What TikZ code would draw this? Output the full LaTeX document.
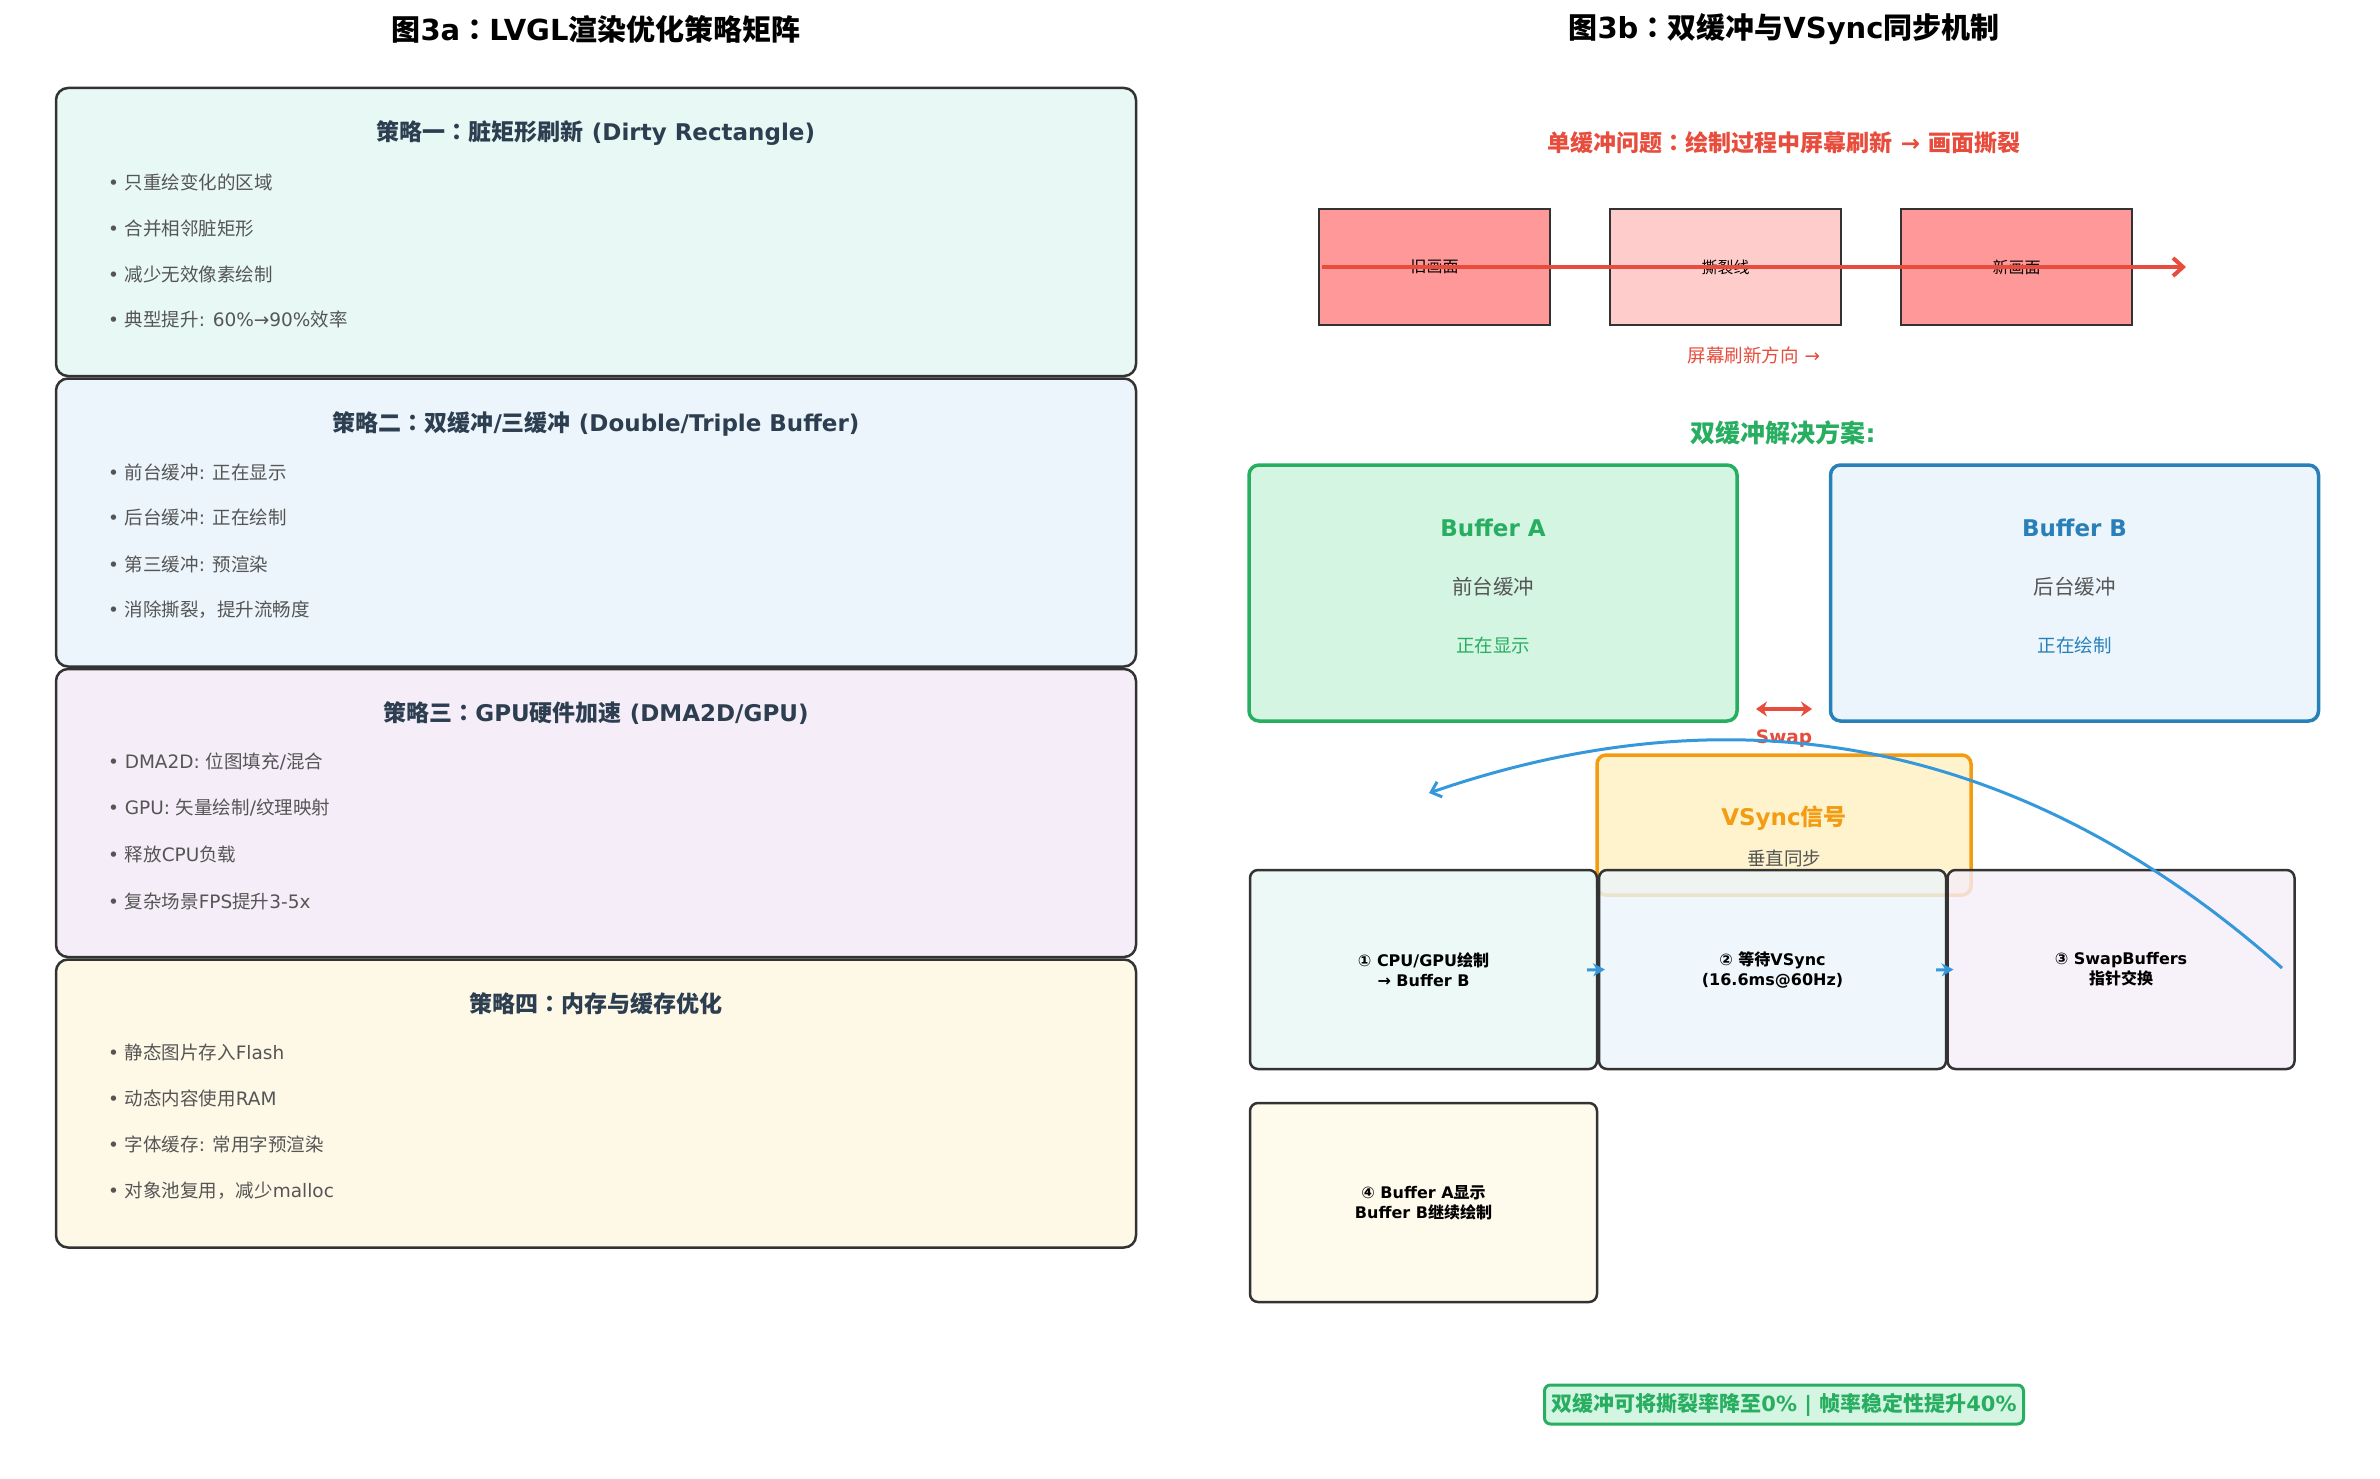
\documentclass[tikz,border=0pt]{standalone}
\usepackage{fontspec}
\setmainfont{DejaVu Sans}
\newfontfamily\lat{DejaVu Sans}
\newfontfamily\cjk{Noto Sans CJK SC}
\newfontfamily\cjkjp{Noto Sans CJK JP}
\usetikzlibrary{arrows.meta}
% automatic switch to the CJK font for CJK characters
\XeTeXinterchartokenstate=1
\newXeTeXintercharclass\zhcls
\newXeTeXintercharclass\colcls
\count255="4E00
\loop\XeTeXcharclass\count255=\zhcls\ifnum\count255<"9FFF\advance\count255 by 1\repeat
\count255="3000
\loop\XeTeXcharclass\count255=\zhcls\ifnum\count255<"303F\advance\count255 by 1\repeat
\count255="FF00
\loop\XeTeXcharclass\count255=\zhcls\ifnum\count255<"FFEF\advance\count255 by 1\repeat
\XeTeXcharclass"FF1A=\colcls
\XeTeXinterchartoks 0 \zhcls = {\cjk}
\XeTeXinterchartoks 4095 \zhcls = {\cjk}
\XeTeXinterchartoks \zhcls 0 = {\lat}
\XeTeXinterchartoks \zhcls 4095 = {\lat}
\XeTeXinterchartoks 0 \colcls = {\cjkjp}
\XeTeXinterchartoks 4095 \colcls = {\cjkjp}
\XeTeXinterchartoks \zhcls \colcls = {\cjkjp}
\XeTeXinterchartoks \colcls \zhcls = {\cjk}
\XeTeXinterchartoks \colcls 0 = {\lat}
\XeTeXinterchartoks \colcls 4095 = {\lat}

\definecolor{dk}{HTML}{333333}
\definecolor{navy}{HTML}{2C3E50}
\definecolor{gry}{HTML}{555555}
\definecolor{rd}{HTML}{E74C3C}
\definecolor{gn}{HTML}{27AE60}
\definecolor{bl}{HTML}{2980B9}
\definecolor{lb}{HTML}{3498DB}
\definecolor{og}{HTML}{F39C12}
\definecolor{fa}{HTML}{E8F8F5}
\definecolor{fb}{HTML}{EBF5FB}
\definecolor{fc}{HTML}{F5EEF8}
\definecolor{fd}{HTML}{FEF9E7}
\definecolor{rda}{HTML}{FF9999}
\definecolor{rdb}{HTML}{FFCCCC}
\definecolor{gnf}{HTML}{D5F5E3}
\definecolor{ogf}{HTML}{FFF3CD}

\begin{document}
\begin{tikzpicture}[x=1pt,y=-1pt,
  every node/.style={inner sep=0pt, outer sep=0pt},
  sbox/.style={draw=dk, line width=2.5pt, rounded corners=12pt, minimum width=1080pt, minimum height=288pt},
  stitle/.style={font=\fontsize{23}{28}\selectfont\bfseries, text=navy},
  bul/.style={anchor=west, font=\fontsize{18.5}{22}\selectfont, text=gry},
  bigtitle/.style={font=\fontsize{29}{35}\selectfont\bfseries, text=black},
  redbox/.style={draw=dk, line width=2pt, minimum width=231pt, minimum height=116pt},
  redlbl/.style={font=\fontsize{16}{20}\selectfont, text=black},
  bufbox/.style={line width=3.5pt, rounded corners=10pt, minimum width=488pt, minimum height=256pt},
  stepbox/.style={draw=dk, line width=2.5pt, rounded corners=8pt, minimum width=347pt, minimum height=199pt, fill opacity=0.8, text opacity=1, align=center, font=\fontsize{16}{20}\selectfont\bfseries},
  steparrow/.style={draw=lb, line width=3pt, -{Stealth[length=12pt,width=13pt]}}
]
\useasboundingbox (0,0) rectangle (2380,1479);

% ---------- titles ----------
\node[bigtitle] (ta) at (596,29) {图3a：LVGL渲染优化策略矩阵};
\node[bigtitle] (tb) at (1784,29) {图3b：双缓冲与VSync同步机制};

% ---------- left: strategy matrix ----------
\node[sbox, fill=fa] (s1) at (596,232) {};
\node[stitle] (s1t) at (596,133) {策略一：脏矩形刷新 (Dirty Rectangle)};
\node[bul] (s1a) at (108,182) {• 只重绘变化的区域};
\node[bul] (s1b) at (108,228) {• 合并相邻脏矩形};
\node[bul] (s1c) at (108,274) {• 减少无效像素绘制};
\node[bul] (s1d) at (108,319) {• 典型提升: 60\%→90\%效率};

\node[sbox, fill=fb] (s2) at (596,522.5) {};
\node[stitle] (s2t) at (596,423.5) {策略二：双缓冲/三缓冲 (Double/Triple Buffer)};
\node[bul] (s2a) at (108,472) {• 前台缓冲: 正在显示};
\node[bul] (s2b) at (108,517) {• 后台缓冲: 正在绘制};
\node[bul] (s2c) at (108,564) {• 第三缓冲: 预渲染};
\node[bul] (s2d) at (108,610) {• 消除撕裂，提升流畅度};

\node[sbox, fill=fc] (s3) at (596,813) {};
\node[stitle] (s3t) at (596,713) {策略三：GPU硬件加速 (DMA2D/GPU)};
\node[bul] (s3a) at (108,762) {• DMA2D: 位图填充/混合};
\node[bul] (s3b) at (108,808) {• GPU: 矢量绘制/纹理映射};
\node[bul] (s3c) at (108,854) {• 释放CPU负载};
\node[bul] (s3d) at (108,901) {• 复杂场景FPS提升3-5x};

\node[sbox, fill=fd] (s4) at (596,1103.5) {};
\node[stitle] (s4t) at (596,1003.5) {策略四：内存与缓存优化};
\node[bul] (s4a) at (108,1052.5) {• 静态图片存入Flash};
\node[bul] (s4b) at (108,1098.5) {• 动态内容使用RAM};
\node[bul] (s4c) at (108,1144.5) {• 字体缓存: 常用字预渲染};
\node[bul] (s4d) at (108,1190.5) {• 对象池复用，减少malloc};

% ---------- right: single buffer problem ----------
\node[font=\fontsize{23}{28}\selectfont\bfseries, text=rd] (prob) at (1784,143) {单缓冲问题：绘制过程中屏幕刷新 → 画面撕裂};
\node[redbox, fill=rda] (r1) at (1434.5,267) {};
\node[redbox, fill=rdb] (r2) at (1725.5,267) {};
\node[redbox, fill=rda] (r3) at (2016.5,267) {};
\node[redlbl] (r1l) at (r1.center) {旧画面};
\node[redlbl] (r2l) at (r2.center) {撕裂线};
\node[redlbl] (r3l) at (r3.center) {新画面};
\coordinate (ra) at (1322,267);
\coordinate (rb) at (2186,267);
\draw[rd, line width=4pt, -{Straight Barb[length=10pt,width=18pt]}] (ra) -- (rb);
\node[font=\fontsize{18.5}{22}\selectfont, text=rd] (dir) at (1754,355) {屏幕刷新方向 →};

% ---------- double buffer solution ----------
\node[font=\fontsize{25}{30}\selectfont\bfseries, text=gn] (sol) at (1783,433) {双缓冲解决方案:};
\node[bufbox, draw=gn, fill=gnf] (ba) at (1493,593) {};
\node[font=\fontsize{23}{28}\selectfont\bfseries, text=gn] (bat) at (1493,528) {Buffer A};
\node[font=\fontsize{20.5}{25}\selectfont, text=gry] (bab) at (1493,587) {前台缓冲};
\node[font=\fontsize{18.5}{22}\selectfont, text=gn] (bac) at (1493,645) {正在显示};

\node[bufbox, draw=bl, fill=fb] (bb) at (2074.5,593) {};
\node[font=\fontsize{23}{28}\selectfont\bfseries, text=bl] (bbt) at (2074.5,528) {Buffer B};
\node[font=\fontsize{20.5}{25}\selectfont, text=gry] (bbb) at (2074.5,587) {后台缓冲};
\node[font=\fontsize{18.5}{22}\selectfont, text=bl] (bbc) at (2074.5,645) {正在绘制};

\coordinate (swa) at (1756,709);
\coordinate (swb) at (1812,709);
\draw[rd, line width=4pt, {Stealth[length=11pt,width=15pt]}-{Stealth[length=11pt,width=15pt]}] (swa) -- (swb);
\node[font=\fontsize{18.5}{22}\selectfont\bfseries, text=rd] (swl) at (1784,739) {Swap};

\node[draw=og, fill=ogf, line width=3.5pt, rounded corners=9pt, minimum width=374pt, minimum height=140pt] (vs) at (1784,825) {};
\node[font=\fontsize{23}{28}\selectfont\bfseries, text=og] (vst) at (1784,818) {VSync信号};
\node[font=\fontsize{18.5}{22}\selectfont, text=gry] (vsb) at (1784,858) {垂直同步};

% ---------- steps ----------
\node[stepbox, fill=fa] (p1) at (1423.5,969.5) {① CPU/GPU绘制\\→ Buffer B};
\node[stepbox, fill=fb] (p2) at (1772.5,969.5) {② 等待VSync\\(16.6ms@60Hz)};
\node[stepbox, fill=fc] (p3) at (2121,969.5) {③ SwapBuffers\\指针交换};
\node[stepbox, fill=fd] (p4) at (1423.5,1202.5) {④ Buffer A显示\\Buffer B继续绘制};

\coordinate (a1) at (1587,970);
\coordinate (a2) at (1936,970);
\draw[steparrow] (a1) -- ([xshift=6pt]p2.west);
\draw[steparrow] (a2) -- ([xshift=6pt]p3.west);

\coordinate (cs) at (2282,968);
\coordinate (ce) at (1429,793);
\draw[lb, line width=3pt, -{Straight Barb[length=9pt,width=16pt]}] (cs) .. controls (2027,742) and (1743,685) .. (ce);

% ---------- note ----------
\node[draw=gn, fill=gnf, line width=3pt, rounded corners=6pt, minimum width=479pt, minimum height=39pt, font=\fontsize{21}{25}\selectfont\bfseries, text=gn] (note) at (1784,1404.5) {双缓冲可将撕裂率降至0\% | 帧率稳定性提升40\%};
\end{tikzpicture}
\end{document}
